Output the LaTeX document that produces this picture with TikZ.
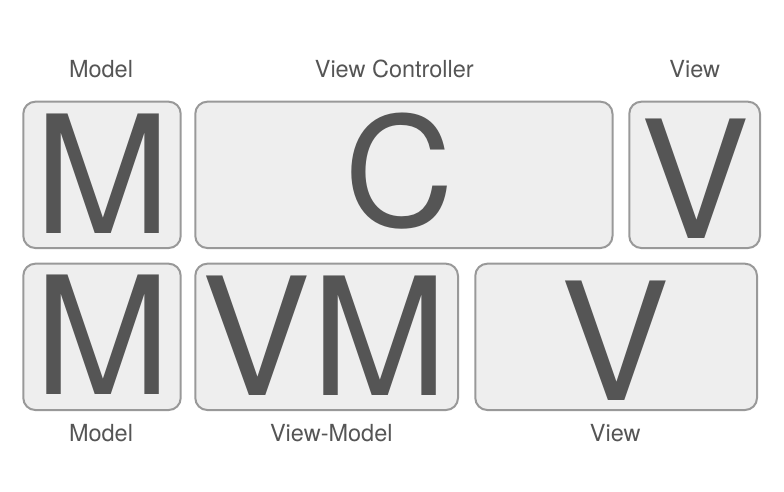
\documentclass[tikz,border=0pt]{standalone}
\usepackage{fontspec}
\setmainfont{TeX Gyre Heros}
\definecolor{txt}{HTML}{555555}
\definecolor{boxfill}{HTML}{EEEEEE}
\definecolor{boxline}{HTML}{999999}
\tikzset{
  panel/.style={draw=boxline, fill=boxfill, line width=2pt, rounded corners=12pt},
  bigletter/.style={text=txt, inner sep=0pt, anchor=base, font=\fontsize{164}{164}\selectfont},
  midletter/.style={text=txt, inner sep=0pt, anchor=base, font=\fontsize{152}{152}\selectfont},
  caption/.style={text=txt, inner sep=0pt, anchor=base, font=\fontsize{23.5}{23.5}\selectfont}
}
\begin{document}
\begin{tikzpicture}[x=1pt,y=-1pt]
\useasboundingbox (0,0) rectangle (784,492);
% top row
\draw[panel] (23.3,101.7) rectangle (180.7,248);
\draw[panel] (195.3,101.7) rectangle (612.5,248);
\draw[panel] (629.3,101.7) rectangle (760,248);
% bottom row
\draw[panel] (23.3,263.7) rectangle (180.7,410);
\draw[panel] (195.3,263.7) rectangle (458,410);
\draw[panel] (475.3,263.7) rectangle (757,410);
% letters
\node[bigletter] (m1) at (102.5,233) {M};
\node[midletter] (c1) at (399.5,226.5) {C};
\node[bigletter] (v1) at (695.5,238) {V};
\node[bigletter] (m2) at (102.5,394.3) {M};
\node[bigletter] (vm2) at (324.7,395.5) {VM};
\node[bigletter] (v2) at (615.5,400) {V};
% captions
\node[caption] (l1) at (101,77.3) {Model};
\node[caption] (l2) at (394.3,77.3) {View Controller};
\node[caption] (l3) at (694.7,77.3) {View};
\node[caption] (l4) at (101,441.5) {Model};
\node[caption] (l5) at (331.3,441.5) {View-Model};
\node[caption] (l6) at (615.3,441.5) {View};
\end{tikzpicture}
\end{document}
